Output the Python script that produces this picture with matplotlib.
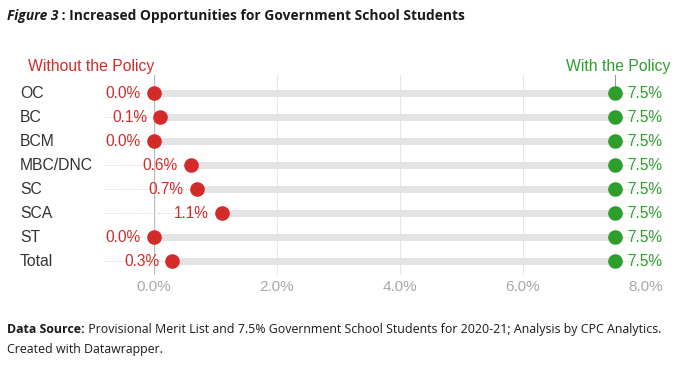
import matplotlib
matplotlib.use("Agg")
import matplotlib.pyplot as plt
import matplotlib.transforms as mtransforms

categories = ["OC", "BC", "BCM", "MBC/DNC", "SC", "SCA", "ST", "Total"]
without_policy = [0.0, 0.1, 0.0, 0.6, 0.7, 1.1, 0.0, 0.3]
with_policy = [7.5, 7.5, 7.5, 7.5, 7.5, 7.5, 7.5, 7.5]
xticks = [0, 2, 4, 6, 8]
xtick_labels = ["0.0%", "2.0%", "4.0%", "6.0%", "8.0%"]

RED = "#d52a2a"
GREEN = "#2e9e2e"
FONT = "Liberation Sans"
W, H = 681, 366
fig = plt.figure(figsize=(W / 100, H / 100), dpi=100)

def px(x0, y0, x1, y1):
    return [x0 / W, 1 - y1 / H, (x1 - x0) / W, (y1 - y0) / H]

ax = fig.add_axes(px(154, 75, 646, 275))
ax.set_xlim(0, 8)
ax.set_ylim(7.58, -0.75)
for s in ax.spines.values():
    s.set_visible(False)
ax.set_xticks([])
ax.set_yticks([])

for t in xticks:
    ax.axvline(t, color="#bdbdbd" if t == 0 else "#e6e6e6", lw=1.0 if t == 0 else 0.8, zorder=0)

blend = mtransforms.blended_transform_factory(fig.transFigure, ax.transData)
for i, cat in enumerate(categories):
    ax.plot([105 / W, 646 / W], [i, i], transform=blend, color="#cfcfcf", lw=0.7,
            ls=(0, (1, 1.5)), zorder=1, clip_on=False)
    ax.plot([without_policy[i], with_policy[i]], [i, i], color="#e3e3e3", lw=5,
            solid_capstyle="butt", zorder=2)
    ax.plot(without_policy[i], i, "o", color=RED, ms=9.5, zorder=4, clip_on=False)
    ax.plot(with_policy[i], i, "o", color=GREEN, ms=9.5, zorder=4, clip_on=False)
    ax.annotate(f"{without_policy[i]:.1f}%", (without_policy[i], i), xytext=(-9.5, -0.5),
                textcoords="offset points", ha="right", va="center", color=RED,
                fontsize=11.2, family=FONT, zorder=5)
    ax.annotate(f"{with_policy[i]:.1f}%", (with_policy[i], i), xytext=(9, -0.5),
                textcoords="offset points", ha="left", va="center", color=GREEN,
                fontsize=11.2, family=FONT, zorder=5)
    ax.text(20 / W, i, cat, transform=blend, ha="left", va="center", fontsize=11.3,
            family=FONT, color="#333333")

tick_tr = mtransforms.blended_transform_factory(ax.transData, fig.transFigure)
for t, lab in zip(xticks, xtick_labels):
    ax.text(t, 1 - 287 / H, lab, transform=tick_tr, ha="center", va="center",
            fontsize=11, family=FONT, color="#a8a8a8")

# series labels
fig.text(28 / W, 1 - 67 / H, "Without the Policy", color=RED, fontsize=11.3,
         family=FONT, ha="left", va="center")
fig.text(670 / W, 1 - 67 / H, "With the Policy", color=GREEN, fontsize=11.3,
         family=FONT, ha="right", va="center")
ax.plot([with_policy[0], with_policy[0]], [-0.75, -0.35], color="#999999", lw=0.8,
        clip_on=False, zorder=3)

# title
fig.canvas.draw()
r = fig.canvas.get_renderer()
t1 = fig.text(7 / W, 1 - 20 / H, "Figure 3", fontsize=9.9, family="Open Sans",
              weight="bold", style="italic", color="#1a1a1a", va="baseline")
bb = t1.get_window_extent(r)
fig.text(bb.x1 / W, 1 - 20 / H, " : Increased Opportunities for Government School Students",
         fontsize=9.9, family="Open Sans", weight="bold", color="#1a1a1a", va="baseline")

# footer
f1 = fig.text(7 / W, 1 - 333 / H, "Data Source:", fontsize=8.95, family="Open Sans",
              weight="bold", color="#1a1a1a", va="baseline")
bb = f1.get_window_extent(r)
fig.text(bb.x1 / W, 1 - 333 / H,
         " Provisional Merit List and 7.5% Government School Students for 2020-21; Analysis by CPC Analytics.",
         fontsize=8.95, family="Open Sans", color="#1a1a1a", va="baseline")
fig.text(7 / W, 1 - 353 / H, "Created with Datawrapper.", fontsize=8.95, family="Open Sans",
         color="#1a1a1a", va="baseline")

fig.savefig("out.png", dpi=100)
